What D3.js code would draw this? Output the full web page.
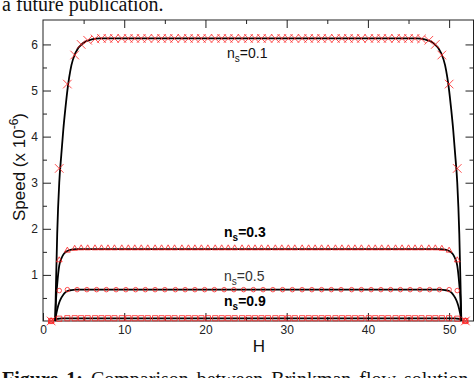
<!DOCTYPE html>
<html>
<head>
<meta charset="utf-8">
<script src="https://cdn.jsdelivr.net/npm/d3@7"></script>
<style>
  body { margin: 0; background: #fff; }
  svg { display: block; }
  .tick text { font-family: "Liberation Sans", Arial, sans-serif; font-size: 12px; fill: #222; }
  .axis path.domain { display: none; }
  .axis line { stroke: #222; }
  .caption { font-family: "Liberation Serif", "Times New Roman", serif; font-size: 20px; fill: #111; }
  .axis-title { font-family: "Liberation Sans", Arial, sans-serif; fill: #111; }
  .ns-label { font-family: "Liberation Sans", Arial, sans-serif; font-size: 14px; fill: #111; }
</style>
</head>
<body>
<svg id="chart" width="474" height="378"></svg>
<script>
// H positions of the simulation markers (x, triangle, square series)
const hGrid = [
  1, 2, 3, 3.9, 4.7, 5.5, 6.4, 7.2, 8.0, 8.8,
  9.7, 10.5, 11.3, 12.1, 12.9, 13.8, 14.6, 15.4, 16.2, 17.1,
  17.9, 18.7, 19.5, 20.3, 21.2, 22.0, 22.8, 23.6, 24.5, 25.3,
  26.1, 26.9, 27.7, 28.6, 29.4, 30.2, 31.0, 31.9, 32.7, 33.5,
  34.3, 35.1, 36.0, 36.8, 37.6, 38.4, 39.2, 40.1, 40.9, 41.7,
  42.5, 43.4, 44.2, 45.0, 45.8, 46.6, 47.5, 48.3, 49.1, 50,
  51, 52
];
// n_s = 0.1 (crosses)
const crossSpeed = [
  0, 3.31, 5.14, 5.77, 6.00, 6.09, 6.12, 6.13, 6.13, 6.13,
  6.13, 6.13, 6.13, 6.13, 6.13, 6.13, 6.13, 6.13, 6.13, 6.13,
  6.13, 6.13, 6.13, 6.13, 6.13, 6.13, 6.13, 6.13, 6.13, 6.13,
  6.13, 6.13, 6.13, 6.13, 6.13, 6.13, 6.13, 6.13, 6.13, 6.13,
  6.13, 6.13, 6.13, 6.13, 6.13, 6.13, 6.13, 6.13, 6.13, 6.13,
  6.13, 6.13, 6.13, 6.13, 6.13, 6.12, 6.09, 6.00, 5.77, 5.14,
  3.31, 0
];
// n_s = 0.3 (triangles)
const triSpeed = [
  0, 1.32, 1.53, 1.57, 1.58, 1.58, 1.58, 1.58, 1.58, 1.58,
  1.58, 1.58, 1.58, 1.58, 1.58, 1.58, 1.58, 1.58, 1.58, 1.58,
  1.58, 1.58, 1.58, 1.58, 1.58, 1.58, 1.58, 1.58, 1.58, 1.58,
  1.58, 1.58, 1.58, 1.58, 1.58, 1.58, 1.58, 1.58, 1.58, 1.58,
  1.58, 1.58, 1.58, 1.58, 1.58, 1.58, 1.58, 1.58, 1.58, 1.58,
  1.58, 1.58, 1.58, 1.58, 1.58, 1.58, 1.58, 1.58, 1.57, 1.53,
  1.32, 0
];
// n_s = 0.9 (squares)
const squareSpeed = [
  0, 0.05, 0.06, 0.06, 0.06, 0.06, 0.06, 0.06, 0.06, 0.06,
  0.06, 0.06, 0.06, 0.06, 0.06, 0.06, 0.06, 0.06, 0.06, 0.06,
  0.06, 0.06, 0.06, 0.06, 0.06, 0.06, 0.06, 0.06, 0.06, 0.06,
  0.06, 0.06, 0.06, 0.06, 0.06, 0.06, 0.06, 0.06, 0.06, 0.06,
  0.06, 0.06, 0.06, 0.06, 0.06, 0.06, 0.06, 0.06, 0.06, 0.06,
  0.06, 0.06, 0.06, 0.06, 0.06, 0.06, 0.06, 0.06, 0.06, 0.06,
  0.05, 0
];
// n_s = 0.5 (circles) has a coarser spacing
const hCircle = [
  1, 2, 3, 4.2, 5.4, 6.6, 7.8, 9.0, 10.2, 11.4,
  12.6, 13.8, 15.0, 16.3, 17.5, 18.7, 19.9, 21.1, 22.3, 23.5,
  24.7, 25.9, 27.1, 28.3, 29.5, 30.7, 31.9, 33.1, 34.3, 35.5,
  36.7, 38.0, 39.2, 40.4, 41.6, 42.8, 44.0, 45.2, 46.4, 47.6,
  48.8, 50, 51, 52
];
const circleSpeed = [
  0, 0.66, 0.68, 0.68, 0.68, 0.68, 0.68, 0.68, 0.68, 0.68,
  0.68, 0.68, 0.68, 0.68, 0.68, 0.68, 0.68, 0.68, 0.68, 0.68,
  0.68, 0.68, 0.68, 0.68, 0.68, 0.68, 0.68, 0.68, 0.68, 0.68,
  0.68, 0.68, 0.68, 0.68, 0.68, 0.68, 0.68, 0.68, 0.68, 0.68,
  0.68, 0.68, 0.66, 0
];

// Brinkman solution (black curves)
const lineH = [1.5, 1.6, 1.75, 2, 2.25, 2.5, 2.75, 3, 3.5, 4, 5, 6, 7, 26.5,
  46, 47, 48, 49, 49.5, 50, 50.25, 50.5, 50.75, 51, 51.25, 51.4, 51.5];
const line01 = [0, 0.8, 1.9, 3.0, 3.6, 4.15, 4.6, 5.0, 5.55, 5.82, 6.04, 6.11, 6.13, 6.13,
  6.13, 6.11, 6.04, 5.82, 5.55, 5.0, 4.6, 4.15, 3.6, 3.0, 1.9, 0.8, 0];
const line03 = [0, 0.45, 0.8, 1.2, 1.35, 1.44, 1.49, 1.52, 1.55, 1.56, 1.56, 1.56, 1.56, 1.56,
  1.56, 1.56, 1.56, 1.56, 1.55, 1.52, 1.49, 1.44, 1.35, 1.2, 0.8, 0.45, 0];
const line05 = [0, 0.12, 0.25, 0.4, 0.5, 0.57, 0.62, 0.65, 0.67, 0.68, 0.68, 0.68, 0.68, 0.68,
  0.68, 0.68, 0.68, 0.68, 0.67, 0.65, 0.62, 0.57, 0.5, 0.4, 0.25, 0.12, 0];
const line09 = [0, 0.03, 0.045, 0.05, 0.055, 0.055, 0.055, 0.055, 0.055, 0.055, 0.055, 0.055, 0.055, 0.055,
  0.055, 0.055, 0.055, 0.055, 0.055, 0.055, 0.055, 0.055, 0.055, 0.05, 0.045, 0.03, 0];

const xMajor = [0, 10, 20, 30, 40, 50];
const xMinor = [5, 15, 25, 35, 45];
const yMajor = [1, 2, 3, 4, 5, 6];
const yMinor = [0.5, 1.5, 2.5, 3.5, 4.5, 5.5];
const seriesNames = ['0.1', '0.3', '0.5', '0.9'];

const svg = d3.select('#chart');
const plotLeft = 43, plotRight = 473.5, plotTop = 20, plotBottom = 321;

const x = d3.scaleLinear().domain([0, 53]).range([plotLeft, plotRight]);
const y = d3.scaleLinear().domain([0, 6.53]).range([plotBottom, plotTop]);

// caption fragments around the figure
svg.append('text').attr('class', 'caption').attr('x', 2).attr('y', 11).text('a future publication.');
let cap = svg.append('text').attr('class', 'caption').attr('x', 2).attr('y', 386).style('word-spacing', '3px');
cap.append('tspan').style('font-weight', 'bold').text('Figure 1:');
cap.append('tspan').text(' Comparison between Brinkman flow solution');

// axes: ticks all point inward
const addAxis = (axis, tr) => svg.append('g').attr('class', 'axis').attr('transform', tr).call(axis);
addAxis(d3.axisBottom(x).tickValues(xMajor).tickSize(-8).tickSizeOuter(0).tickPadding(4).tickFormat(d3.format('d')), `translate(0,${plotBottom})`);
addAxis(d3.axisBottom(x).tickValues(xMinor).tickSize(-4).tickSizeOuter(0).tickFormat(''), `translate(0,${plotBottom})`);
addAxis(d3.axisTop(x).tickValues(xMajor.slice(1)).tickSize(-8).tickSizeOuter(0).tickFormat(''), `translate(0,${plotTop})`);
addAxis(d3.axisTop(x).tickValues(xMinor).tickSize(-4).tickSizeOuter(0).tickFormat(''), `translate(0,${plotTop})`);
addAxis(d3.axisLeft(y).tickValues(yMajor).tickSize(-8).tickSizeOuter(0).tickPadding(5).tickFormat(d3.format('d')), `translate(${plotLeft},0)`);
addAxis(d3.axisLeft(y).tickValues(yMinor).tickSize(-4).tickSizeOuter(0).tickFormat(''), `translate(${plotLeft},0)`);
addAxis(d3.axisRight(y).tickValues(yMajor).tickSize(-8).tickSizeOuter(0).tickFormat(''), `translate(${plotRight},0)`);
addAxis(d3.axisRight(y).tickValues(yMinor).tickSize(-4).tickSizeOuter(0).tickFormat(''), `translate(${plotRight},0)`);

svg.append('rect')
  .attr('x', plotLeft).attr('y', plotTop)
  .attr('width', plotRight - plotLeft).attr('height', plotBottom - plotTop)
  .attr('fill', 'none').attr('stroke', '#222').attr('stroke-width', 1);

// black solution curves
const line = d3.line().x((d, i) => x(lineH[i])).y(d => y(d)).curve(d3.curveMonotoneX);
[line01, line03, line05, line09].forEach(vals => {
  svg.append('path').datum(vals)
    .attr('d', line)
    .attr('fill', 'none').attr('stroke', '#000').attr('stroke-width', 1.8);
});

// red simulation markers
const markers = [
  { h: hGrid, v: crossSpeed, type: d3.symbolTimes, size: 50 },
  { h: hGrid, v: triSpeed, type: d3.symbolTriangle2, size: 24 },
  { h: hCircle, v: circleSpeed, type: d3.symbolCircle, size: 16 },
  { h: hGrid, v: squareSpeed, type: d3.symbolSquare2, size: 34 }
];
markers.forEach(m => {
  const sym = d3.symbol().type(m.type).size(m.size);
  svg.append('g').selectAll('path')
    .data(m.v).join('path')
    .attr('transform', (d, i) => `translate(${x(m.h[i])},${y(d)})`)
    .attr('d', sym)
    .attr('fill', 'none').attr('stroke', '#f22').attr('stroke-width', 0.8);
});

// series labels n_s = ...
const labelPos = [[227, 58, 'normal', '#111'], [224, 237, 'bold', '#000'], [224, 281, 'normal', '#333'], [224, 306, 'bold', '#000']];
seriesNames.forEach((name, i) => {
  const [lx, ly, fw, col] = labelPos[i];
  const t = svg.append('text').attr('class', 'ns-label').attr('x', lx).attr('y', ly)
    .style('font-weight', fw).style('fill', col);
  t.append('tspan').text('n');
  t.append('tspan').attr('dy', 4).style('font-size', '10px').text('s');
  t.append('tspan').attr('dy', -4).text('=' + name);
});

// axis titles
svg.append('text').attr('class', 'axis-title').attr('x', 259).attr('y', 352)
  .attr('text-anchor', 'middle').style('font-size', '17px').text('H');
const yt = svg.append('text').attr('class', 'axis-title')
  .attr('transform', 'translate(25,167) rotate(-90)')
  .attr('text-anchor', 'middle').style('font-size', '17px');
yt.append('tspan').text('Speed (x 10');
yt.append('tspan').attr('dy', -7).style('font-size', '12px').text('-6');
yt.append('tspan').attr('dy', 7).text(')');
</script>
</body>
</html>
